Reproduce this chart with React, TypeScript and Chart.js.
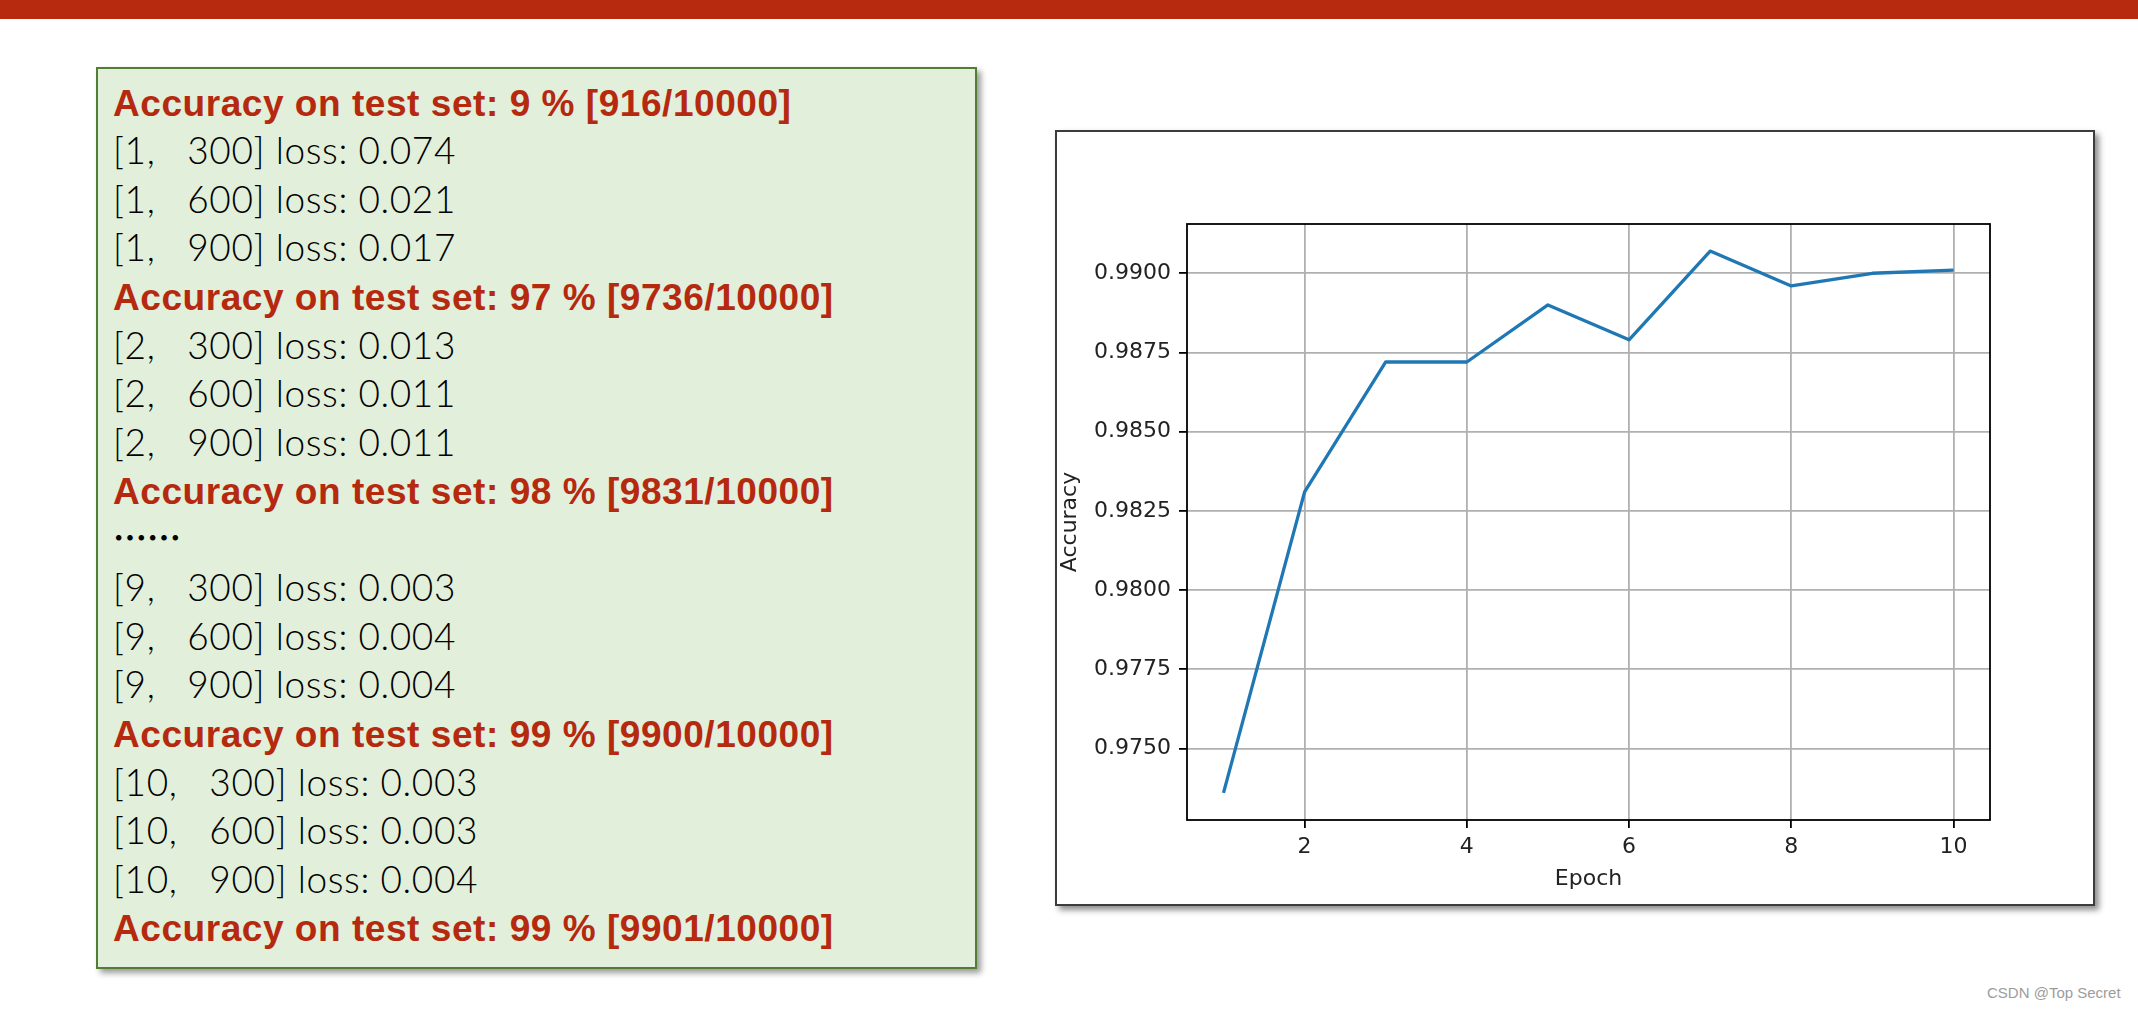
import React, { useEffect, useRef } from "react";
import { Chart, registerables } from "chart.js";

Chart.register(...registerables);

// ---- data ----
const epochs = [1, 2, 3, 4, 5, 6, 7, 8, 9, 10];
const testAccuracy = [0.9736, 0.9831, 0.9872, 0.9872, 0.989, 0.9879, 0.9907, 0.9896, 0.99, 0.9901];
const xTickValues = [2, 4, 6, 8, 10];
const yTickValues = [0.975, 0.9775, 0.98, 0.9825, 0.985, 0.9875, 0.99];
const xAxisTitle = "Epoch";
const yAxisTitle = "Accuracy";

const logTexts = [
  "Accuracy on test set: 9 % [916/10000]",
  "[1,   300] loss: 0.074",
  "[1,   600] loss: 0.021",
  "[1,   900] loss: 0.017",
  "Accuracy on test set: 97 % [9736/10000]",
  "[2,   300] loss: 0.013",
  "[2,   600] loss: 0.011",
  "[2,   900] loss: 0.011",
  "Accuracy on test set: 98 % [9831/10000]",
  "……",
  "[9,   300] loss: 0.003",
  "[9,   600] loss: 0.004",
  "[9,   900] loss: 0.004",
  "Accuracy on test set: 99 % [9900/10000]",
  "[10,   300] loss: 0.003",
  "[10,   600] loss: 0.003",
  "[10,   900] loss: 0.004",
  "Accuracy on test set: 99 % [9901/10000]",
];
const watermark = "CSDN @Top Secret";

const RED = "#B5290F";

function lineStyle(text: string, i: number): React.CSSProperties {
  const baseline = 116 + i * 48.55;
  const base: React.CSSProperties = {
    position: "absolute",
    left: 113,
    whiteSpace: "pre",
    lineHeight: "48.5px",
    height: 48.5,
  };
  if (text.startsWith("Accuracy")) {
    return {
      ...base,
      top: baseline - 36.4,
      fontFamily: "'Liberation Sans', Arial, sans-serif",
      fontWeight: 700,
      fontSize: 37,
      letterSpacing: "0.55px",
      color: RED,
    };
  }
  if (text.startsWith("…")) {
    return {
      ...base,
      top: baseline - 40,
      fontFamily: "'Noto Sans CJK SC', sans-serif",
      fontWeight: 700,
      fontSize: 34,
      color: "#000",
    };
  }
  return {
    ...base,
    top: baseline - 38.2,
    fontFamily: "Lato, 'Liberation Sans', sans-serif",
    fontWeight: 300,
    fontSize: 37,
    letterSpacing: "0.6px",
    color: "#000",
  };
}

const framePlugin = {
  id: "frameBox",
  afterDatasetsDraw(chart: any) {
    const { ctx, chartArea } = chart;
    ctx.save();
    ctx.strokeStyle = "#000";
    ctx.lineWidth = 1.8;
    ctx.strokeRect(chartArea.left, chartArea.top, chartArea.right - chartArea.left, chartArea.bottom - chartArea.top);
    ctx.restore();
  },
};

function AccuracyChart() {
  const ref = useRef<HTMLCanvasElement | null>(null);
  useEffect(() => {
    if (!ref.current) return;
    const dMin = Math.min(...testAccuracy);
    const dMax = Math.max(...testAccuracy);
    const pad = (dMax - dMin) * 0.05;
    const xPad = (epochs[epochs.length - 1] - epochs[0]) * 0.05;
    const tickFont = { family: "'DejaVu Sans', sans-serif", size: 22 };
    const chart = new Chart(ref.current, {
      type: "line",
      data: {
        datasets: [
          {
            data: epochs.map((e, i) => ({ x: e, y: testAccuracy[i] })),
            borderColor: "#1f77b4",
            borderWidth: 3.3,
            pointRadius: 0,
            tension: 0,
            borderJoinStyle: "round",
            fill: false,
          },
        ],
      },
      options: {
        animation: false,
        responsive: false,
        devicePixelRatio: 1,
        layout: { padding: { top: 92, right: 103, left: 0, bottom: 0 } },
        plugins: { legend: { display: false }, tooltip: { enabled: false } },
        scales: {
          x: {
            type: "linear",
            min: epochs[0] - xPad,
            max: epochs[epochs.length - 1] + xPad,
            afterBuildTicks: (s: any) => {
              s.ticks = xTickValues.map((v) => ({ value: v }));
            },
            afterFit: (s: any) => {
              s.height = 84;
            },
            ticks: { font: tickFont, color: "#222", padding: 6, maxRotation: 0, autoSkip: false },
            grid: { color: "#b0b0b0", lineWidth: 1.8, tickColor: "#000", tickLength: 8, tickWidth: 1.8 },
            border: { display: false },
            title: {
              display: true,
              text: xAxisTitle,
              font: tickFont,
              color: "#222",
              padding: { top: 0, bottom: 12 },
            },
          },
          y: {
            type: "linear",
            min: dMin - pad,
            max: dMax + pad,
            afterBuildTicks: (s: any) => {
              s.ticks = yTickValues.map((v) => ({ value: v }));
            },
            afterFit: (s: any) => {
              s.width = 130;
            },
            ticks: {
              font: tickFont,
              color: "#222",
              padding: 8,
              autoSkip: false,
              callback: (v: any) => Number(v).toFixed(4),
            },
            grid: { color: "#b0b0b0", lineWidth: 1.8, tickColor: "#000", tickLength: 8, tickWidth: 1.8 },
            border: { display: false },
            title: {
              display: true,
              text: yAxisTitle,
              font: tickFont,
              color: "#222",
              padding: { top: 0, bottom: 0 },
            },
          },
        },
      },
      plugins: [framePlugin],
    } as any);
    return () => chart.destroy();
  }, []);
  return (
    <canvas
      ref={ref}
      width={1036}
      height={772}
      style={{ position: "absolute", left: 1057, top: 132, width: 1036, height: 772 }}
    />
  );
}

export default function App() {
  return (
    <div
      style={{
        position: "absolute",
        left: 0,
        top: 0,
        width: 2138,
        height: 1013,
        background: "#fff",
        overflow: "hidden",
      }}
    >
      <div style={{ position: "absolute", left: 0, top: 0, width: 2138, height: 19, background: "#B72A10" }} />
      <div
        style={{
          position: "absolute",
          left: 96,
          top: 67,
          width: 881,
          height: 902,
          boxSizing: "border-box",
          border: "2px solid #507E32",
          background: "#E2EFDA",
          boxShadow: "4px 4px 6px rgba(0,0,0,0.4)",
        }}
      />
      {logTexts.map((t, i) => (
        <div key={i} style={lineStyle(t, i)}>
          {t}
        </div>
      ))}
      <div
        style={{
          position: "absolute",
          left: 1055,
          top: 130,
          width: 1040,
          height: 776,
          boxSizing: "border-box",
          border: "2px solid #3c3c3c",
          background: "#fff",
          boxShadow: "4px 4px 6px rgba(0,0,0,0.45)",
        }}
      />
      <AccuracyChart />
      <div
        style={{
          position: "absolute",
          left: 1987,
          top: 984,
          fontFamily: "'Liberation Sans', Arial, sans-serif",
          fontSize: 15,
          color: "#9c9c9c",
          whiteSpace: "pre",
        }}
      >
        {watermark}
      </div>
    </div>
  );
}
